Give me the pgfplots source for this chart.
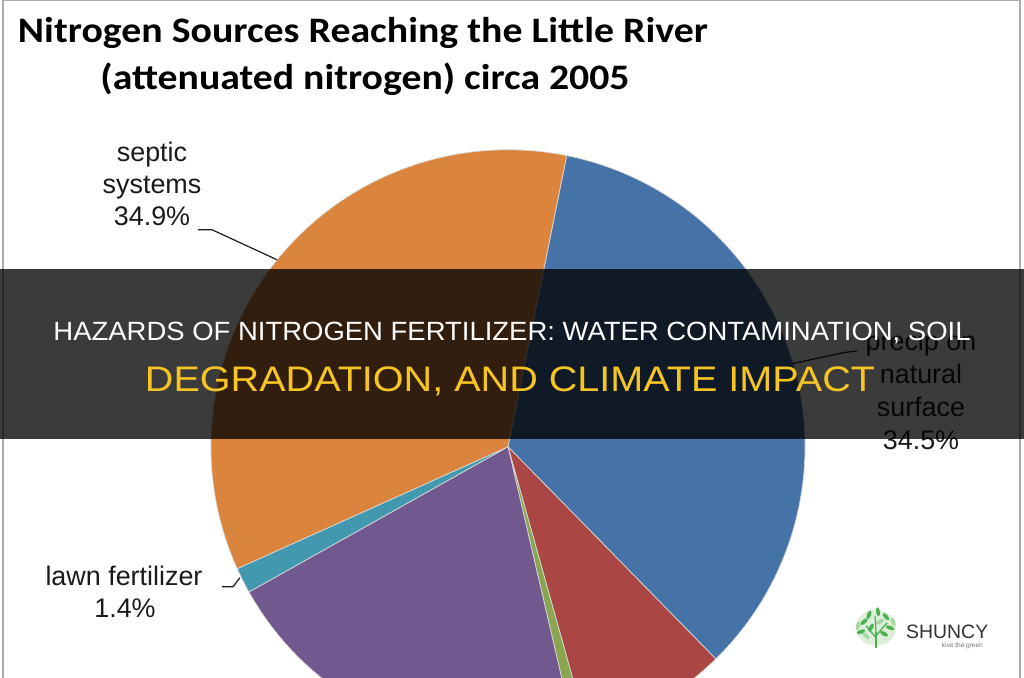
\documentclass[border=0pt]{standalone}
\usepackage{fontspec}
\setmainfont{Liberation Sans}
\newfontfamily\titlefont{Carlito}
\usepackage{graphicx}
\usepackage{pgfplots}
\usepackage{pgfplotstable}
\pgfplotsset{compat=1.18}

% slice colours, in the order of the table below
\definecolor{slice0}{HTML}{4572A7}
\definecolor{slice1}{HTML}{AA4643}
\definecolor{slice2}{HTML}{89A54E}
\definecolor{slice3}{HTML}{71588F}
\definecolor{slice4}{HTML}{4198AF}
\definecolor{slice5}{HTML}{DB843D}
\definecolor{banneryellow}{HTML}{F7C523}
\definecolor{labeltext}{HTML}{1A1A1A}
\definecolor{leafdark}{HTML}{4CAF50}
\definecolor{leaflight}{HTML}{A5D6A0}
\definecolor{leafhalo}{HTML}{DCEFD8}

% share of attenuated nitrogen, percent (clockwise from the top)
\pgfplotstableread{
source value
precip     34.5
other1      8.0
other2      0.7
other3     20.5
lawn        1.4
septic     34.9
}\piedata

\def\curangle{78.6}
\newcommand\leaf[4]{\fill[#1] (axis cs:#2,#3) ellipse [x radius=4.5bp, y radius=2bp, rotate=#4];}

\begin{document}
\begin{tikzpicture}
\begin{axis}[
  width=1024bp, height=680bp, scale only axis,
  xmin=0, xmax=1024, ymin=0, ymax=680,
  hide axis, clip=true,
]
% pie slices
\pgfplotsforeachungrouped \i in {0,...,5}{%
  \pgfplotstablegetelem{\i}{value}\of\piedata
  \pgfmathsetmacro\endangle{\curangle-3.6*\pgfplotsretval}%
  \edef\temp{\noexpand\fill[fill=slice\i, draw=white!70!gray, line width=0.7bp]
    (axis cs:508,231) -- ++(\curangle:297bp)
    arc[start angle=\curangle, end angle=\endangle, radius=297bp] -- cycle;}%
  \temp
  \global\let\curangle\endangle
}

% frame
\draw[gray!65, line width=1.5bp] (axis cs:3,0) -- (axis cs:3,677) -- (axis cs:1020,677) -- (axis cs:1020,0);

% chart title
\node[anchor=base, inner sep=0] at (axis cs:363,635)
  {\resizebox{690bp}{\height}{\titlefont\bfseries\fontsize{36}{44}\selectfont Nitrogen Sources Reaching the Little River}};
\node[anchor=base, inner sep=0] at (axis cs:365,588)
  {\resizebox{529bp}{\height}{\titlefont\bfseries\fontsize{36}{44}\selectfont (attenuated nitrogen) circa 2005}};

% data labels with leader lines
\begin{scope}[every node/.style={anchor=base, inner sep=0, text=labeltext, font=\fontsize{27}{32}\selectfont}]
\node at (axis cs:152,516) {septic};
\node at (axis cs:152,484) {systems};
\node at (axis cs:152,452) {34.9\%};
\node at (axis cs:124,92) {lawn fertilizer};
\node at (axis cs:125,60) {1.4\%};
\node at (axis cs:921,327) {precip on};
\node at (axis cs:921,294) {natural};
\node at (axis cs:921,261) {surface};
\node at (axis cs:921,228) {34.5\%};
\end{scope}
\draw[labeltext, line width=1.2bp] (axis cs:198,448) -- (axis cs:212,448) -- (axis cs:277,418);
\draw[labeltext, line width=1.2bp] (axis cs:222,91) -- (axis cs:233,91) -- (axis cs:240,100);
\draw[labeltext, line width=1.2bp] (axis cs:857,327) -- (axis cs:843,325) -- (axis cs:792,314);

% headline banner
\fill[black, opacity=0.77] (axis cs:0,239) rectangle (axis cs:1024,409);
\node[anchor=base, inner sep=0, text=white] at (axis cs:512,337)
  {\resizebox{917bp}{\height}{\fontsize{26.5}{30}\selectfont HAZARDS OF NITROGEN FERTILIZER: WATER CONTAMINATION, SOIL}};
\node[anchor=base, inner sep=0, text=banneryellow] at (axis cs:510,286)
  {\resizebox{730bp}{\height}{\fontsize{35.6}{40}\selectfont DEGRADATION, AND CLIMATE IMPACT}};

% brand mark
\fill[leafhalo] (axis cs:876,50) ellipse [x radius=20bp, y radius=18bp];
\draw[leafdark, line width=2bp] (axis cs:876,30) -- (axis cs:876,46);
\draw[leafdark, line width=1.3bp] (axis cs:876,40) -- (axis cs:866,52);
\draw[leafdark, line width=1.3bp] (axis cs:876,42) -- (axis cs:887,55);
\draw[leafdark, line width=1.2bp] (axis cs:876,46) -- (axis cs:875,62);
\leaf{leafdark}{864}{56}{40}
\leaf{leafdark}{869}{63}{70}
\leaf{leafdark}{878}{66}{100}
\leaf{leafdark}{886}{61}{130}
\leaf{leafdark}{890}{50}{160}
\leaf{leafdark}{861}{46}{20}
\leaf{leafdark}{884}{44}{150}
\leaf{leafdark}{871}{50}{60}
\leaf{leaflight}{858}{52}{80}
\leaf{leaflight}{893}{56}{110}
\leaf{leaflight}{880}{56}{30}
\leaf{leaflight}{866}{42}{140}
\node[anchor=base west, inner sep=0, text=black!80, font=\fontsize{19.5}{22}\selectfont] at (axis cs:906,39) {SHUNCY};
\node[anchor=base east, inner sep=0, text=black!55, font=\fontsize{6.5}{8}\selectfont] at (axis cs:983,30) {love the green};
\end{axis}
\end{tikzpicture}
\end{document}
